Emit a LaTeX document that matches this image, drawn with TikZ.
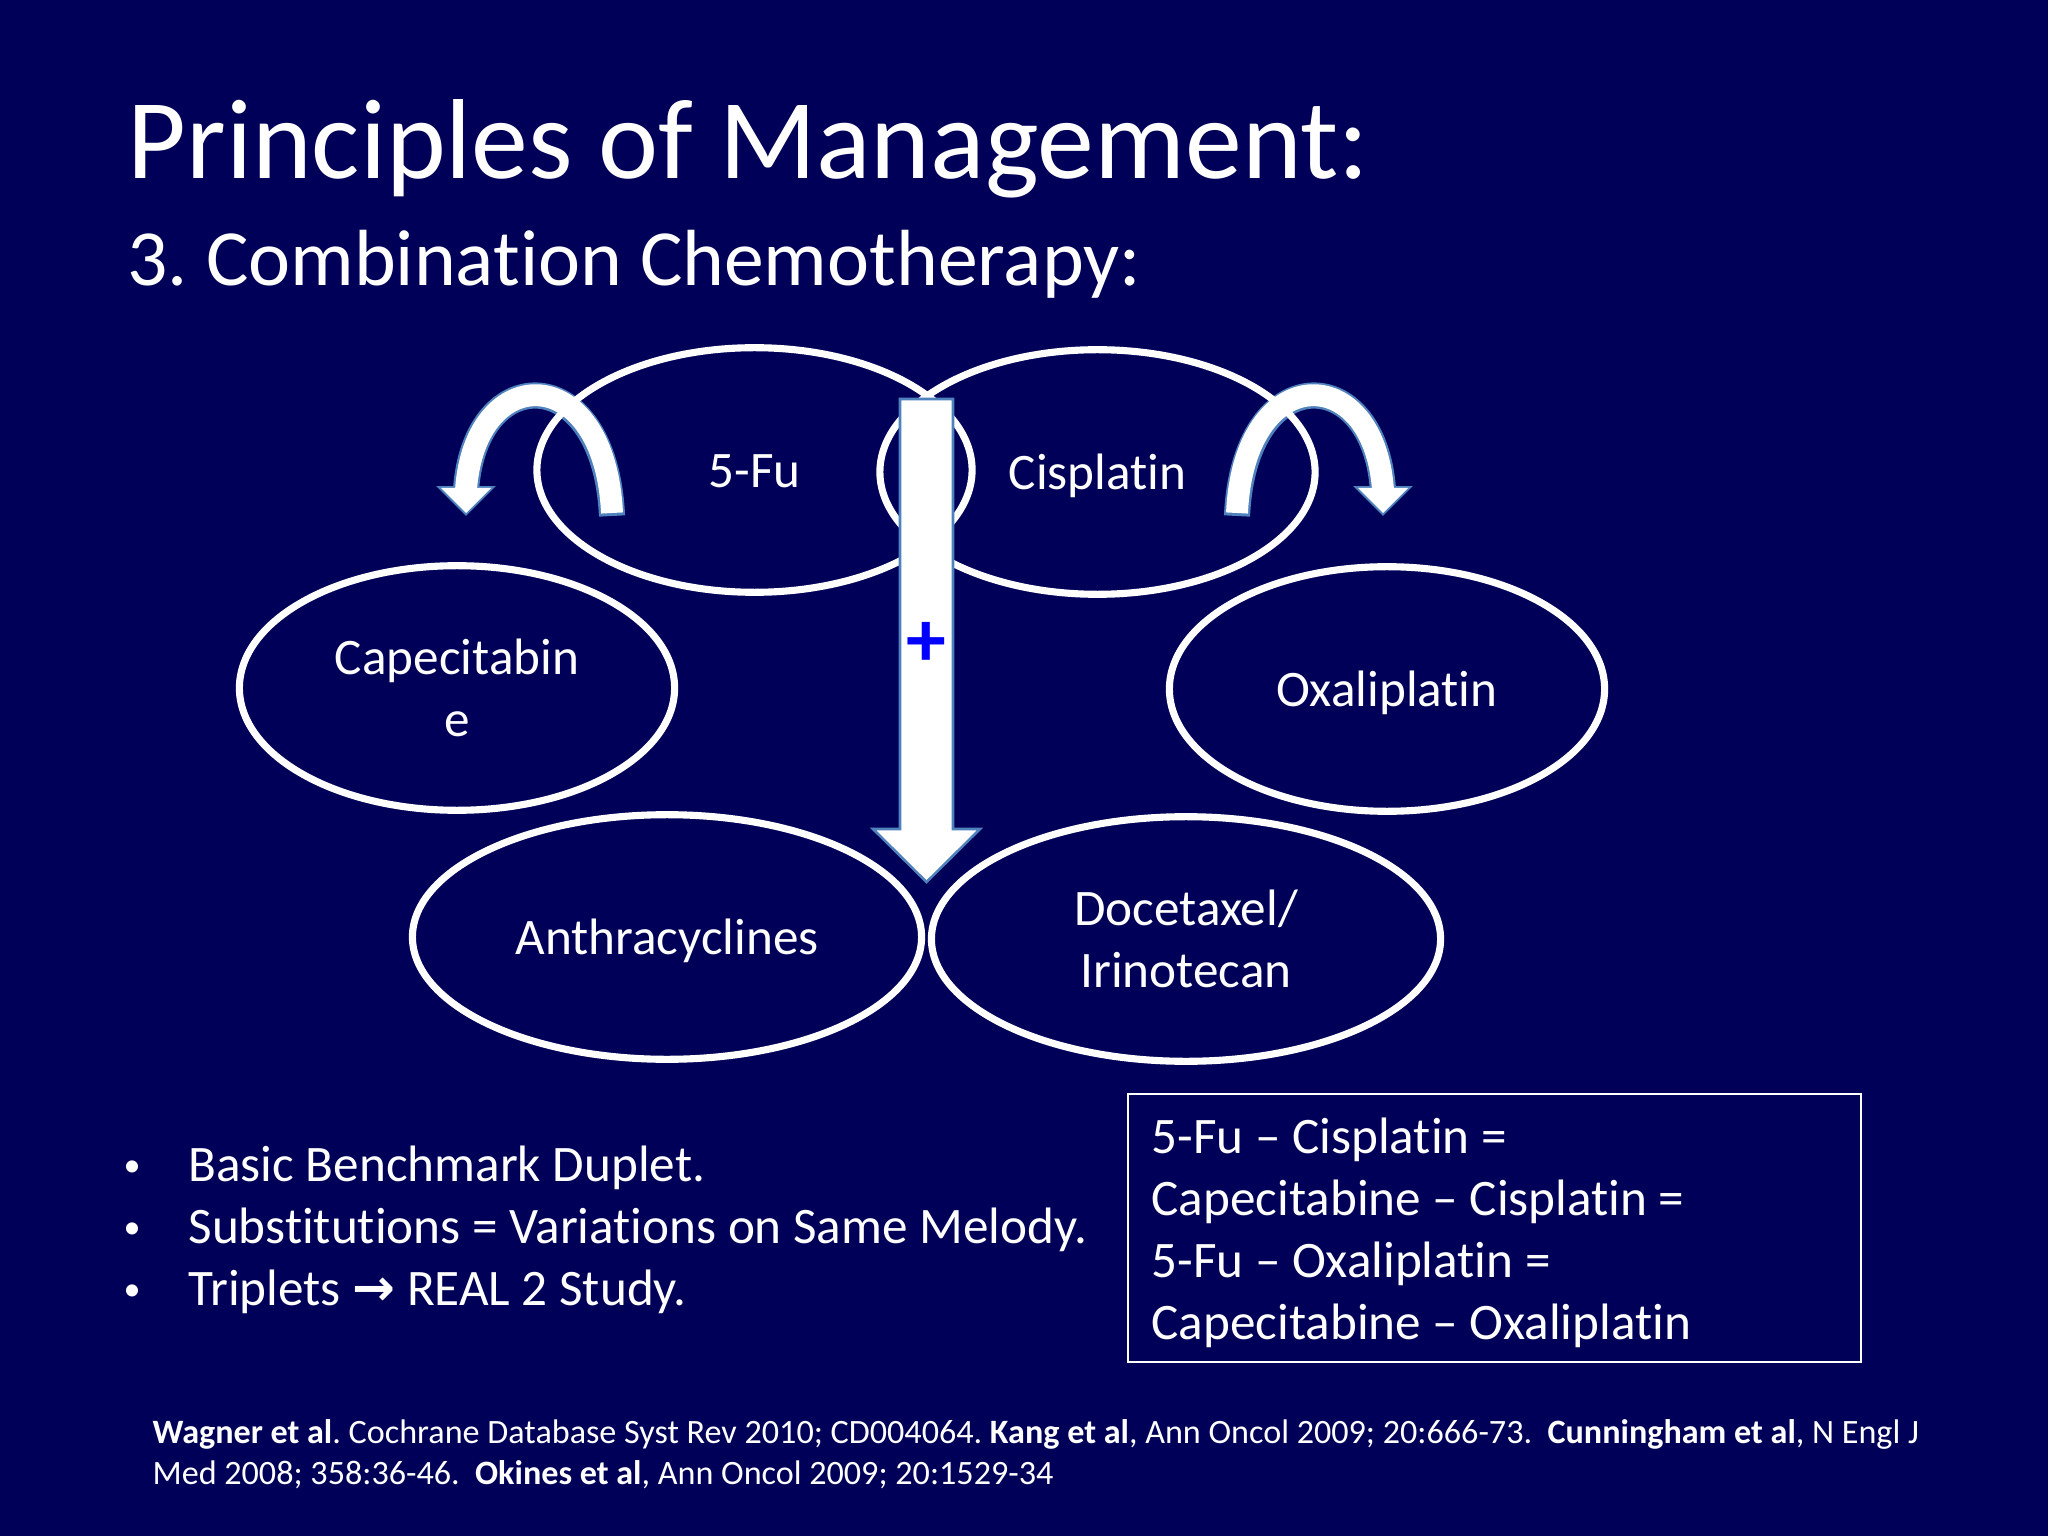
\documentclass[tikz,border=0pt]{standalone}
\usepackage{fontspec}
\setmainfont{Carlito}[Ligatures=NoCommon]
\newfontfamily\arrowfont{DejaVu Sans}
\usetikzlibrary{shapes.geometric}
\definecolor{slidebg}{RGB}{0,0,88}
\definecolor{edgeblue}{RGB}{79,129,189}
\definecolor{plusblue}{RGB}{0,0,255}
\frenchspacing

\begin{document}
\begin{tikzpicture}[x=0.3515625pt,y=-0.3515625pt,
  drug/.style={ellipse,draw=white,line width=2.5pt,text=white,inner sep=0pt,
    minimum width=153pt,minimum height=86pt,align=center,
    font=\fontsize{18}{21.6}\selectfont},
  wide drug/.style={drug,minimum width=179pt},
  one line/.style={text height=16.4pt,text depth=3.8pt},
  slide text/.style={text=white,inner sep=0pt,anchor=base west,
    font=\fontsize{18}{21.6}\selectfont},
  bullet/.style={slide text,anchor=base,font=\fontsize{12}{14}\selectfont},
  band/.style={white,line width=7.7pt},
  band edge/.style={edgeblue,line width=9.2pt},
  head edge/.style={draw=edgeblue,fill=edgeblue,line width=1.4pt}]

  % background
  \fill[slidebg] (0,0) rectangle (2048,1536);

  % titles
  \node[slide text,font=\fontsize{40}{48}\selectfont] (title) at (127,179) {Principles of Management:};
  \node[slide text,font=\fontsize{28}{34}\selectfont] (subtitle) at (127,286) {3. Combination Chemotherapy:};

  % turning arrows
  \coordinate (left tail) at (612,513);
  \coordinate (left head) at (466,490);
  \draw[band edge] (612,516) .. controls (605,360) and (475,360) .. (left head);
  \filldraw[head edge] (441,488) -- (491,488) -- (466,513) -- cycle;
  \draw[band] (left tail) .. controls (605,360) and (475,360) .. (left head);
  \fill[white] (441,488) -- (491,488) -- (466,513) -- cycle;

  \coordinate (right tail) at (1237,513);
  \coordinate (right head) at (1383,490);
  \draw[band edge] (1237,516) .. controls (1244,360) and (1374,360) .. (right head);
  \filldraw[head edge] (1358,488) -- (1408,488) -- (1383,513) -- cycle;
  \draw[band] (right tail) .. controls (1244,360) and (1374,360) .. (right head);
  \fill[white] (1358,488) -- (1408,488) -- (1383,513) -- cycle;

  % drugs
  \node[drug,one line] (fu) at (754.5,470) {5-Fu};
  \node[drug,one line] (cis) at (1097.5,472) {Cisplatin};
  \node[drug] (cape) at (457,688) {Capecitabin\\e};
  \node[drug,one line] (oxa) at (1387,689) {Oxaliplatin};
  \node[wide drug,one line] (anth) at (667,937) {Anthracyclines};
  \node[wide drug] (doce) at (1186,939) {Docetaxel/\\Irinotecan};

  % adding arrow
  \filldraw[fill=white,draw=edgeblue,line width=0.9pt]
    (900,399) -- (953,399) -- (953,829) -- (980,829) -- (926.5,882)
    -- (873,829) -- (900,829) -- cycle;
  \node[text=plusblue,font=\bfseries\fontsize{28}{34}\selectfont] (plus) at (926.5,644) {+};

  % bullets
  \node[bullet] (b1) at (132,1176) {•};
  \node[bullet] (b2) at (132,1238) {•};
  \node[bullet] (b3) at (132,1300) {•};
  \node[slide text] (t1) at (188,1181) {Basic Benchmark Duplet.};
  \node[slide text] (t2) at (188,1243) {Substitutions = Variations on Same Melody.};
  \node[slide text] (t3) at (188,1305) {Triplets {\arrowfont\bfseries →} REAL 2 Study.};

  % equivalence box
  \node[draw=white,line width=0.7pt,minimum width=257.7pt,minimum height=94.2pt,inner sep=0pt]
    (eq) at (1494.5,1228) {};
  \node[slide text] (e1) at (1151,1153) {5-Fu – Cisplatin =};
  \node[slide text] (e2) at (1151,1215) {Capecitabine – Cisplatin =};
  \node[slide text] (e3) at (1151,1277) {5-Fu – Oxaliplatin =};
  \node[slide text] (e4) at (1151,1339) {Capecitabine – Oxaliplatin};

  % references
  \node[slide text,font=\fontsize{12}{14.4}\selectfont] (ref1) at (152,1443)
    {\textbf{Wagner et al}. Cochrane Database Syst Rev 2010; CD004064. \textbf{Kang et al}, Ann Oncol 2009; 20:666-73.\ \ \textbf{Cunningham et al}, N Engl J};
  \node[slide text,font=\fontsize{12}{14.4}\selectfont] (ref2) at (152,1484)
    {Med 2008; 358:36-46.\ \ \textbf{Okines et al}, Ann Oncol 2009; 20:1529-34};

\end{tikzpicture}
\end{document}
